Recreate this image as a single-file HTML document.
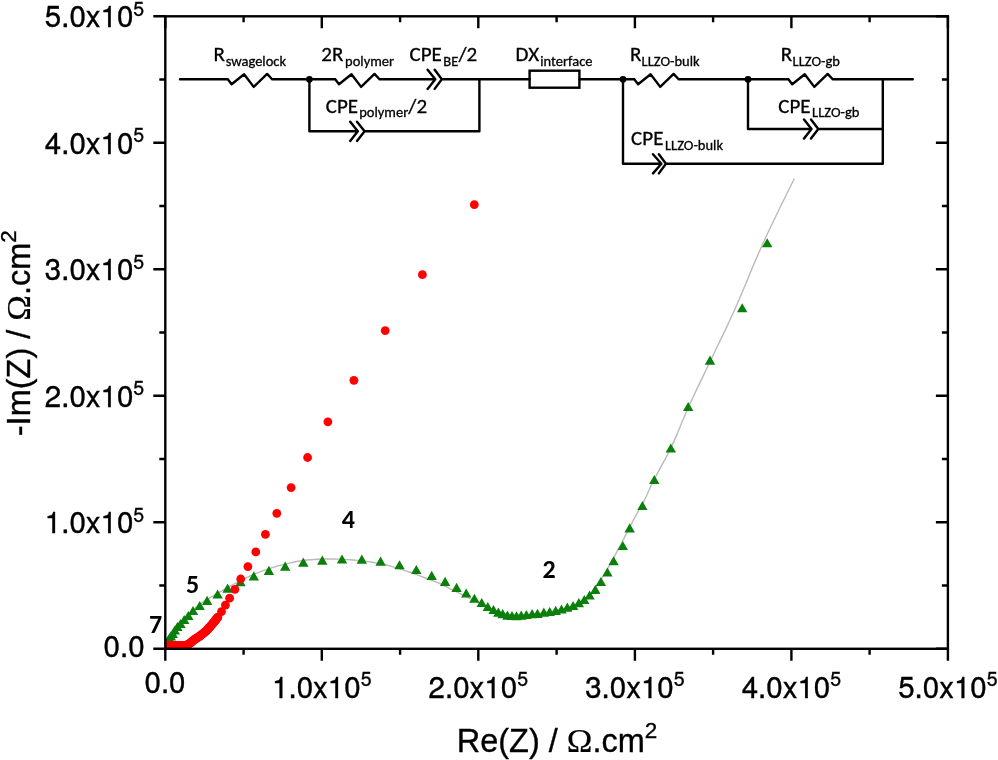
<!DOCTYPE html><html><head><meta charset="utf-8"><title>Nyquist plot</title>
<style>html,body{margin:0;padding:0;background:#fff;overflow:hidden}svg{display:block}.ax{font-family:"Liberation Sans",Arial,sans-serif;fill:#000;stroke:#000;stroke-width:0.35px}.tk{font-family:"TeX Gyre Heros","Liberation Sans",Arial,sans-serif;fill:#000;stroke:#000;stroke-width:0.35px}.cc{font-family:Carlito,"Liberation Sans",sans-serif;fill:#000;stroke:#000;stroke-width:0.3px}.lb{font-family:Carlito,"Liberation Sans",sans-serif;font-weight:bold;fill:#000}</style></head><body>
<svg width="998" height="760" viewBox="0 0 998 760">
<rect x="0" y="0" width="998" height="760" fill="#fff"/>
<defs><clipPath id="pa"><rect x="165.3" y="16.3" width="782.6" height="632.5"/></clipPath></defs>
<g clip-path="url(#pa)">
<polyline fill="none" stroke="#bababa" stroke-width="1.4" stroke-linejoin="round" points="165.5,645.0 166.0,644.2 166.6,643.0 167.4,641.7 168.3,640.2 169.2,638.8 170.0,637.5 170.8,636.3 171.6,635.1 172.5,633.9 173.3,632.8 174.2,631.6 175.0,630.5 175.8,629.4 176.7,628.3 177.5,627.2 178.3,626.1 179.2,625.0 180.0,624.0 180.8,623.0 181.7,622.0 182.5,621.1 183.3,620.1 184.2,619.2 185.0,618.3 185.8,617.4 186.7,616.5 187.5,615.6 188.3,614.7 189.2,613.8 190.0,613.0 190.8,612.2 191.7,611.4 192.5,610.6 193.3,609.8 194.2,609.0 195.0,608.3 195.8,607.6 196.7,606.9 197.5,606.2 198.3,605.5 199.2,604.8 200.0,604.2 200.8,603.6 201.7,602.9 202.5,602.3 203.3,601.8 204.1,601.2 205.0,600.6 205.8,600.1 206.6,599.6 207.4,599.1 208.3,598.6 209.3,598.1 210.4,597.4 211.7,596.6 213.2,595.8 214.8,594.9 216.5,593.9 218.2,592.9 220.0,591.9 221.9,590.8 223.8,589.7 225.9,588.6 227.9,587.4 230.0,586.2 232.1,585.1 234.2,584.0 236.2,582.9 238.3,581.7 240.4,580.6 242.6,579.5 244.9,578.4 247.2,577.3 249.6,576.2 252.1,575.1 254.6,574.0 257.3,572.9 260.1,571.8 263.1,570.7 266.4,569.6 269.8,568.5 273.2,567.4 276.6,566.3 280.0,565.4 283.4,564.5 286.8,563.7 290.2,562.9 293.5,562.2 296.7,561.5 299.7,561.0 302.4,560.6 304.8,560.2 307.0,560.0 309.2,559.8 311.6,559.7 314.1,559.5 316.9,559.3 319.8,559.2 322.9,559.1 326.0,559.0 329.1,559.0 332.1,559.0 335.1,559.0 338.1,559.1 341.2,559.3 344.2,559.4 347.2,559.6 350.2,559.8 353.2,560.0 356.2,560.3 359.2,560.5 362.2,560.9 365.2,561.2 368.2,561.6 371.1,562.0 373.9,562.5 376.8,562.9 379.6,563.5 382.5,564.1 385.6,564.8 388.9,565.6 392.3,566.6 395.8,567.6 399.3,568.7 402.7,569.8 406.0,570.9 409.2,572.0 412.3,573.1 415.4,574.2 418.3,575.3 421.3,576.4 424.1,577.5 426.9,578.5 429.5,579.5 432.1,580.5 434.7,581.4 437.2,582.4 439.7,583.5 442.2,584.6 444.6,585.8 447.0,587.0 449.4,588.3 451.8,589.5 454.2,590.7 456.6,591.9 459.1,593.2 461.6,594.4 464.0,595.6 466.4,596.8 468.6,597.9 470.7,598.9 472.7,599.9 474.6,600.8 476.4,601.7 478.2,602.6 480.0,603.5 481.7,604.4 483.4,605.3 485.1,606.1 486.7,607.0 488.3,607.7 490.0,608.5 491.7,609.2 493.3,609.9 495.0,610.5 496.7,611.1 498.3,611.7 500.0,612.2 501.7,612.7 503.4,613.2 505.2,613.6 506.9,614.0 508.5,614.3 510.0,614.6 511.3,614.8 512.5,615.0 513.6,615.1 514.7,615.2 515.8,615.3 517.0,615.3 518.3,615.3 519.5,615.3 520.8,615.3 522.1,615.2 523.5,615.1 525.0,615.0 526.6,614.9 528.2,614.7 529.9,614.6 531.6,614.4 533.3,614.2 535.0,614.0 536.7,613.8 538.3,613.6 540.0,613.4 541.7,613.1 543.3,612.9 545.0,612.6 546.7,612.3 548.3,612.1 550.0,611.8 551.7,611.5 553.3,611.1 555.0,610.8 556.7,610.4 558.3,610.1 560.0,609.7 561.7,609.3 563.3,608.8 565.0,608.3 566.7,607.7 568.4,607.1 570.2,606.5 571.9,605.8 573.5,605.2 575.0,604.5 576.4,603.8 577.6,603.1 578.8,602.5 580.0,601.8 581.0,601.1 582.0,600.5 582.9,600.0 583.6,599.5 584.3,599.1 585.0,598.7 585.7,598.1 586.6,597.4 587.6,596.5 588.7,595.6 589.8,594.5 590.9,593.3 592.1,592.1 593.2,590.8 594.3,589.4 595.4,588.0 596.5,586.4 597.5,584.9 598.6,583.2 599.7,581.6 600.8,579.9 601.9,578.2 603.0,576.5 604.1,574.7 605.2,572.9 606.3,571.0 607.4,569.2 608.4,567.4 609.4,565.5 610.5,563.6 611.6,561.5 612.9,559.2 614.3,556.6 615.9,553.7 617.5,550.7 619.1,547.7 620.7,544.8 622.1,542.1 623.3,539.7 624.4,537.6 625.4,535.6 626.4,533.5 627.5,531.4 628.7,529.0 630.1,526.3 631.7,523.4 633.3,520.3 634.9,517.3 636.5,514.4 637.9,511.8 639.1,509.6 640.2,507.8 641.2,506.1 642.2,504.3 643.3,502.4 644.5,500.0 645.8,497.3 647.1,494.5 648.4,491.5 649.9,488.2 651.6,484.5 653.7,480.3 656.2,475.6 659.0,470.4 662.0,464.9 665.2,459.1 668.3,453.0 671.4,446.8 674.3,440.4 677.3,433.6 680.2,426.6 683.1,419.5 686.1,412.4 689.2,405.4 692.3,398.7 695.4,392.1 698.5,385.6 701.8,378.9 705.2,371.7 708.9,364.0 712.9,355.7 717.2,346.8 721.6,337.6 726.2,328.1 730.7,318.3 735.3,308.3 739.8,298.0 744.3,287.3 748.8,276.4 753.4,265.3 758.2,254.2 763.0,243.3 768.4,231.7 774.4,219.3 780.4,206.8 786.1,195.3 790.9,185.5 794.4,178.5"/>
<path fill="#0a800a" d="M166.00 638.10L171.20 647.20L160.80 647.20ZM167.60 635.90L172.80 645.00L162.40 645.00ZM169.20 633.60L174.40 642.70L164.00 642.70ZM170.80 631.30L176.00 640.40L165.60 640.40ZM172.70 628.80L177.90 637.90L167.50 637.90ZM174.80 625.50L180.00 634.60L169.60 634.60ZM177.40 621.90L182.60 631.00L172.20 631.00ZM180.50 618.90L185.70 628.00L175.30 628.00ZM184.20 615.00L189.40 624.10L179.00 624.10ZM188.30 611.00L193.50 620.10L183.10 620.10ZM193.00 606.00L198.20 615.10L187.80 615.10ZM199.70 600.90L204.90 610.00L194.50 610.00ZM207.10 595.80L212.30 604.90L201.90 604.90ZM217.60 589.50L222.80 598.60L212.40 598.60ZM227.60 583.60L232.80 592.70L222.40 592.70ZM240.50 577.10L245.70 586.20L235.30 586.20ZM253.80 571.30L259.00 580.40L248.60 580.40ZM268.90 565.80L274.10 574.90L263.70 574.90ZM285.20 561.60L290.40 570.70L280.00 570.70ZM303.30 557.60L308.50 566.70L298.10 566.70ZM322.30 555.60L327.50 564.70L317.10 564.70ZM342.00 554.40L347.20 563.50L336.80 563.50ZM361.80 554.60L367.00 563.70L356.60 563.70ZM380.60 556.60L385.80 565.70L375.40 565.70ZM399.50 560.20L404.70 569.30L394.30 569.30ZM416.30 565.00L421.50 574.10L411.10 574.10ZM431.70 570.80L436.90 579.90L426.50 579.90ZM445.10 576.80L450.30 585.90L439.90 585.90ZM456.60 582.80L461.80 591.90L451.40 591.90ZM466.20 588.50L471.40 597.60L461.00 597.60ZM474.40 593.70L479.60 602.80L469.20 602.80ZM481.70 598.00L486.90 607.10L476.50 607.10ZM487.80 601.90L493.00 611.00L482.60 611.00ZM493.50 604.90L498.70 614.00L488.30 614.00ZM498.40 607.60L503.60 616.70L493.20 616.70ZM502.70 609.10L507.90 618.20L497.50 618.20ZM507.50 610.60L512.70 619.70L502.30 619.70ZM512.00 610.90L517.20 620.00L506.80 620.00ZM516.50 611.20L521.70 620.30L511.30 620.30ZM521.20 610.60L526.40 619.70L516.00 619.70ZM526.40 610.00L531.60 619.10L521.20 619.10ZM532.10 609.10L537.30 618.20L526.90 618.20ZM537.50 608.80L542.70 617.90L532.30 617.90ZM543.80 607.60L549.00 616.70L538.60 616.70ZM549.70 606.90L554.90 616.00L544.50 616.00ZM555.70 605.80L560.90 614.90L550.50 614.90ZM561.50 604.40L566.70 613.50L556.30 613.50ZM567.30 602.60L572.50 611.70L562.10 611.70ZM573.10 600.90L578.30 610.00L567.90 610.00ZM578.80 598.10L584.00 607.20L573.60 607.20ZM584.30 594.90L589.50 604.00L579.10 604.00ZM589.60 590.40L594.80 599.50L584.40 599.50ZM595.30 584.80L600.50 593.90L590.10 593.90ZM600.90 576.90L606.10 586.00L595.70 586.00ZM607.40 567.40L612.60 576.50L602.20 576.50ZM613.60 556.20L618.80 565.30L608.40 565.30ZM622.80 541.00L628.00 550.10L617.60 550.10ZM629.70 523.30L634.90 532.40L624.50 532.40ZM642.40 501.00L647.60 510.10L637.20 510.10ZM654.30 475.00L659.50 484.10L649.10 484.10ZM670.80 443.40L676.00 452.50L665.60 452.50ZM688.20 402.00L693.40 411.10L683.00 411.10ZM710.00 355.60L715.20 364.70L704.80 364.70ZM742.20 303.20L747.40 312.30L737.00 312.30ZM767.20 238.20L772.40 247.30L762.00 247.30Z"/>
<g fill="#ff0000"><circle cx="166.0" cy="645.7" r="4.4"/><circle cx="166.7" cy="645.7" r="4.4"/><circle cx="167.4" cy="645.7" r="4.4"/><circle cx="168.1" cy="645.7" r="4.4"/><circle cx="168.9" cy="645.7" r="4.4"/><circle cx="169.6" cy="645.7" r="4.4"/><circle cx="170.3" cy="645.7" r="4.4"/><circle cx="171.0" cy="645.7" r="4.4"/><circle cx="171.7" cy="645.7" r="4.4"/><circle cx="172.4" cy="645.7" r="4.4"/><circle cx="173.1" cy="645.7" r="4.4"/><circle cx="173.9" cy="645.7" r="4.4"/><circle cx="174.6" cy="645.7" r="4.4"/><circle cx="175.3" cy="645.7" r="4.4"/><circle cx="176.0" cy="645.7" r="4.4"/><circle cx="176.7" cy="645.7" r="4.4"/><circle cx="177.5" cy="645.7" r="4.4"/><circle cx="178.2" cy="645.7" r="4.4"/><circle cx="178.9" cy="645.7" r="4.4"/><circle cx="179.6" cy="645.7" r="4.4"/><circle cx="180.4" cy="645.6" r="4.4"/><circle cx="181.1" cy="645.6" r="4.4"/><circle cx="181.8" cy="645.6" r="4.4"/><circle cx="182.5" cy="645.6" r="4.4"/><circle cx="183.3" cy="645.6" r="4.4"/><circle cx="184.0" cy="645.6" r="4.4"/><circle cx="184.8" cy="645.5" r="4.4"/><circle cx="185.5" cy="645.3" r="4.4"/><circle cx="186.2" cy="645.1" r="4.4"/><circle cx="187.0" cy="645.0" r="4.4"/><circle cx="187.8" cy="644.6" r="4.4"/><circle cx="188.5" cy="644.1" r="4.4"/><circle cx="189.2" cy="643.7" r="4.4"/><circle cx="190.0" cy="643.3" r="4.4"/><circle cx="190.6" cy="642.8" r="4.4"/><circle cx="191.1" cy="642.3" r="4.4"/><circle cx="191.7" cy="641.8" r="4.4"/><circle cx="192.3" cy="641.3" r="4.4"/><circle cx="192.9" cy="640.8" r="4.4"/><circle cx="193.4" cy="640.3" r="4.4"/><circle cx="194.0" cy="639.8" r="4.4"/><circle cx="194.7" cy="639.4" r="4.4"/><circle cx="195.3" cy="639.0" r="4.4"/><circle cx="196.0" cy="638.6" r="4.4"/><circle cx="196.7" cy="638.2" r="4.4"/><circle cx="197.3" cy="637.8" r="4.4"/><circle cx="198.0" cy="637.4" r="4.4"/><circle cx="198.6" cy="637.0" r="4.4"/><circle cx="199.1" cy="636.5" r="4.4"/><circle cx="199.7" cy="636.1" r="4.4"/><circle cx="200.3" cy="635.7" r="4.4"/><circle cx="200.9" cy="635.3" r="4.4"/><circle cx="201.4" cy="634.8" r="4.4"/><circle cx="202.0" cy="634.4" r="4.4"/><circle cx="202.6" cy="633.9" r="4.4"/><circle cx="203.1" cy="633.5" r="4.4"/><circle cx="203.7" cy="633.0" r="4.4"/><circle cx="204.3" cy="632.5" r="4.4"/><circle cx="204.9" cy="632.0" r="4.4"/><circle cx="205.4" cy="631.6" r="4.4"/><circle cx="206.0" cy="631.1" r="4.4"/><circle cx="206.5" cy="630.6" r="4.4"/><circle cx="207.0" cy="630.0" r="4.4"/><circle cx="207.5" cy="629.5" r="4.4"/><circle cx="208.0" cy="629.0" r="4.4"/><circle cx="208.5" cy="628.4" r="4.4"/><circle cx="209.0" cy="627.9" r="4.4"/><circle cx="209.5" cy="627.3" r="4.4"/><circle cx="210.0" cy="626.8" r="4.4"/><circle cx="210.5" cy="626.2" r="4.4"/><circle cx="211.0" cy="625.6" r="4.4"/><circle cx="211.5" cy="625.0" r="4.4"/><circle cx="212.0" cy="624.5" r="4.4"/><circle cx="212.5" cy="623.9" r="4.4"/><circle cx="213.0" cy="623.3" r="4.4"/><circle cx="213.5" cy="622.7" r="4.4"/><circle cx="214.0" cy="622.1" r="4.4"/><circle cx="214.4" cy="621.5" r="4.4"/><circle cx="214.9" cy="621.0" r="4.4"/><circle cx="215.3" cy="620.4" r="4.4"/><circle cx="215.7" cy="619.9" r="4.4"/><circle cx="216.2" cy="619.3" r="4.4"/><circle cx="216.6" cy="618.8" r="4.4"/><circle cx="217.0" cy="618.2" r="4.4"/><circle cx="217.5" cy="617.7" r="4.4"/><circle cx="217.9" cy="617.1" r="4.4"/><circle cx="221.5" cy="611.6" r="4.4"/><circle cx="225.4" cy="605.1" r="4.4"/><circle cx="229.6" cy="598.2" r="4.4"/><circle cx="234.9" cy="589.3" r="4.4"/><circle cx="240.7" cy="579.0" r="4.4"/><circle cx="247.9" cy="566.6" r="4.4"/><circle cx="255.8" cy="551.9" r="4.4"/><circle cx="265.4" cy="534.3" r="4.4"/><circle cx="276.8" cy="513.3" r="4.4"/><circle cx="291.1" cy="487.6" r="4.4"/><circle cx="307.6" cy="457.5" r="4.4"/><circle cx="327.9" cy="421.8" r="4.4"/><circle cx="353.9" cy="380.3" r="4.4"/><circle cx="385.2" cy="330.6" r="4.4"/><circle cx="422.4" cy="274.7" r="4.4"/><circle cx="474.3" cy="204.7" r="4.4"/></g>
</g>
<g stroke="#000" stroke-width="2.4" fill="none" stroke-linecap="butt">
<rect x="165.3" y="16.3" width="782.6" height="632.5"/>
<path d="M165.3 648.8V660.8M165.3 16.3V28.3M165.3 648.8H153.3M947.9 648.8H935.9M243.6 648.8V654.8M243.6 16.3V22.3M165.3 585.5H159.3M947.9 585.5H941.9M321.8 648.8V660.8M321.8 16.3V28.3M165.3 522.3H153.3M947.9 522.3H935.9M400.1 648.8V654.8M400.1 16.3V22.3M165.3 459.0H159.3M947.9 459.0H941.9M478.3 648.8V660.8M478.3 16.3V28.3M165.3 395.8H153.3M947.9 395.8H935.9M556.6 648.8V654.8M556.6 16.3V22.3M165.3 332.5H159.3M947.9 332.5H941.9M634.9 648.8V660.8M634.9 16.3V28.3M165.3 269.3H153.3M947.9 269.3H935.9M713.1 648.8V654.8M713.1 16.3V22.3M165.3 206.0H159.3M947.9 206.0H941.9M791.4 648.8V660.8M791.4 16.3V28.3M165.3 142.8H153.3M947.9 142.8H935.9M869.6 648.8V654.8M869.6 16.3V22.3M165.3 79.5H159.3M947.9 79.5H941.9M947.9 648.8V660.8M947.9 16.3V28.3M165.3 16.3H153.3M947.9 16.3H935.9"/>
</g>
<text class="tk" transform="translate(144.6 657.1) scale(1 1.05)" font-size="29.5" text-anchor="end">0.0</text>
<text class="tk" transform="translate(144.2 533.1) scale(1 1.05)" font-size="29.5" text-anchor="end">1.0x10<tspan font-size="19.5" dy="-10.7">5</tspan></text>
<text class="tk" transform="translate(144.2 406.6) scale(1 1.05)" font-size="29.5" text-anchor="end">2.0x10<tspan font-size="19.5" dy="-10.7">5</tspan></text>
<text class="tk" transform="translate(144.2 280.1) scale(1 1.05)" font-size="29.5" text-anchor="end">3.0x10<tspan font-size="19.5" dy="-10.7">5</tspan></text>
<text class="tk" transform="translate(144.2 153.6) scale(1 1.05)" font-size="29.5" text-anchor="end">4.0x10<tspan font-size="19.5" dy="-10.7">5</tspan></text>
<text class="tk" transform="translate(144.2 27.1) scale(1 1.05)" font-size="29.5" text-anchor="end">5.0x10<tspan font-size="19.5" dy="-10.7">5</tspan></text>
<text class="tk" transform="translate(165.0 692.9) scale(1 1.05)" font-size="29.5" text-anchor="middle">0.0</text>
<text class="tk" transform="translate(321.8 698.2) scale(1 1.05)" font-size="29.5" text-anchor="middle">1.0x10<tspan font-size="19.5" dy="-11.8">5</tspan></text>
<text class="tk" transform="translate(478.3 698.2) scale(1 1.05)" font-size="29.5" text-anchor="middle">2.0x10<tspan font-size="19.5" dy="-11.8">5</tspan></text>
<text class="tk" transform="translate(634.9 698.2) scale(1 1.05)" font-size="29.5" text-anchor="middle">3.0x10<tspan font-size="19.5" dy="-11.8">5</tspan></text>
<text class="tk" transform="translate(791.4 698.2) scale(1 1.05)" font-size="29.5" text-anchor="middle">4.0x10<tspan font-size="19.5" dy="-11.8">5</tspan></text>
<text class="tk" transform="translate(947.9 698.2) scale(1 1.05)" font-size="29.5" text-anchor="middle">5.0x10<tspan font-size="19.5" dy="-11.8">5</tspan></text>
<text class="ax" x="557.0" y="751.7" font-size="32.5" text-anchor="middle">Re(Z) / <tspan font-family="Liberation Serif" font-size="34.5" stroke-width="0.2">&#937;</tspan>.cm<tspan font-size="22.5" dy="-14">2</tspan></text>
<text class="ax" transform="translate(30.2 333.2) rotate(-90)" x="0" y="0" font-size="32.5" text-anchor="middle">-Im(Z) / <tspan font-family="Liberation Serif" font-size="34.5" stroke-width="0.2">&#937;</tspan>.cm<tspan font-size="22.5" dy="-14">2</tspan></text>
<text class="lb" x="155.6" y="632.8" font-size="26" text-anchor="middle">7</text>
<text class="lb" x="192.6" y="592.6" font-size="26" text-anchor="middle">5</text>
<text class="lb" x="348.3" y="527.9" font-size="26" text-anchor="middle">4</text>
<text class="lb" x="549.2" y="577.9" font-size="26" text-anchor="middle">2</text>
<path fill="none" stroke="#000" stroke-width="2.4" stroke-linejoin="round" stroke-linecap="round" d="M180 79.3H227.8M227.8 79.3L231.6 84.3L244.1 74.2L253.7 86.9L267.1 73.9L272.1 79.3M272.1 79.3H335.2M335.2 79.3L339.0 84.3L351.5 74.2L361.1 86.9L374.5 73.9L379.5 79.3M379.5 79.3H435.3M427.6 69.7L435.3 79.3L427.6 88.9M434.7 69.7L441.8 79.3L434.7 88.9M441.8 79.3H529.6M579.4 79.3H634.3M634.3 79.3L638.1 84.3L650.6 74.2L660.2 86.9L673.6 73.9L678.6 79.3M678.6 79.3H788.4M788.4 79.3L792.2 84.3L804.7 74.2L814.3 86.9L827.7 73.9L832.7 79.3M832.7 79.3H912.8M309.4 79.3V131.3H357.8M350.2 121.7L357.8 131.3L350.2 140.9M357.0 121.7L364.6 131.3L357.0 140.9M364.6 131.3H479.4V79.3M748 79.3V129H811.5M804.0 119.4L811.5 129.0L804.0 138.6M811.0 119.4L818.3 129.0L811.0 138.6M818.3 129H882.8M882.8 79.3V163.8M623 79.3V163.8H661.4M653.0 154.2L661.4 163.8L653.0 173.4M658.9 154.2L665.9 163.8L658.9 173.4M665.9 163.8H882.8"/>
<rect x="529.6" y="70.7" width="49.8" height="17" fill="none" stroke="#000" stroke-width="2.4"/>
<circle cx="309.4" cy="79.3" r="3.4" fill="#000"/>
<circle cx="623.0" cy="79.3" r="3.4" fill="#000"/>
<circle cx="748.0" cy="79.3" r="3.4" fill="#000"/>
<text class="cc" x="213.4" y="60.9" font-size="21.0">R</text>
<text class="cc" x="225.7" y="65.7" font-size="14.5" textLength="60.38" lengthAdjust="spacingAndGlyphs">swagelock</text>
<text class="cc" x="321.3" y="61.3" font-size="21.0" textLength="22.05" lengthAdjust="spacingAndGlyphs">2R</text>
<text class="cc" x="345.1" y="66.2" font-size="14.5" textLength="49.02" lengthAdjust="spacingAndGlyphs">polymer</text>
<text class="cc" x="409.5" y="61.2" font-size="21.0" textLength="32.31" lengthAdjust="spacingAndGlyphs">CPE</text>
<text class="cc" x="443.3" y="66.0" font-size="14.5" textLength="14.97" lengthAdjust="spacingAndGlyphs">BE</text>
<text class="cc" x="458.4" y="61.2" font-size="21.0" textLength="18.77" lengthAdjust="spacingAndGlyphs">/2</text>
<text class="cc" x="325.7" y="112.5" font-size="21.0" textLength="32.31" lengthAdjust="spacingAndGlyphs">CPE</text>
<text class="cc" x="359.2" y="116.7" font-size="14.5" textLength="49.02" lengthAdjust="spacingAndGlyphs">polymer</text>
<text class="cc" x="408.3" y="112.5" font-size="21.0" textLength="18.77" lengthAdjust="spacingAndGlyphs">/2</text>
<text class="cc" x="515.6" y="61.4" font-size="21.0" textLength="23.52" lengthAdjust="spacingAndGlyphs">DX</text>
<text class="cc" x="540.3" y="66.3" font-size="14.5" textLength="52.22" lengthAdjust="spacingAndGlyphs">interface</text>
<text class="cc" x="629.9" y="61.2" font-size="21.0">R</text>
<text class="cc" x="641.6" y="66.0" font-size="14.5" textLength="58.02" lengthAdjust="spacingAndGlyphs">LLZO-bulk</text>
<text class="cc" x="780.7" y="61.2" font-size="21.0">R</text>
<text class="cc" x="792.6" y="66.0" font-size="14.5" textLength="47.30" lengthAdjust="spacingAndGlyphs">LLZO-gb</text>
<text class="cc" x="778.3" y="112.6" font-size="21.0" textLength="32.31" lengthAdjust="spacingAndGlyphs">CPE</text>
<text class="cc" x="812.1" y="117.0" font-size="14.5" textLength="47.30" lengthAdjust="spacingAndGlyphs">LLZO-gb</text>
<text class="cc" x="631.1" y="145.0" font-size="21.0" textLength="32.31" lengthAdjust="spacingAndGlyphs">CPE</text>
<text class="cc" x="665.0" y="149.8" font-size="14.5" textLength="58.02" lengthAdjust="spacingAndGlyphs">LLZO-bulk</text>
</svg></body></html>
